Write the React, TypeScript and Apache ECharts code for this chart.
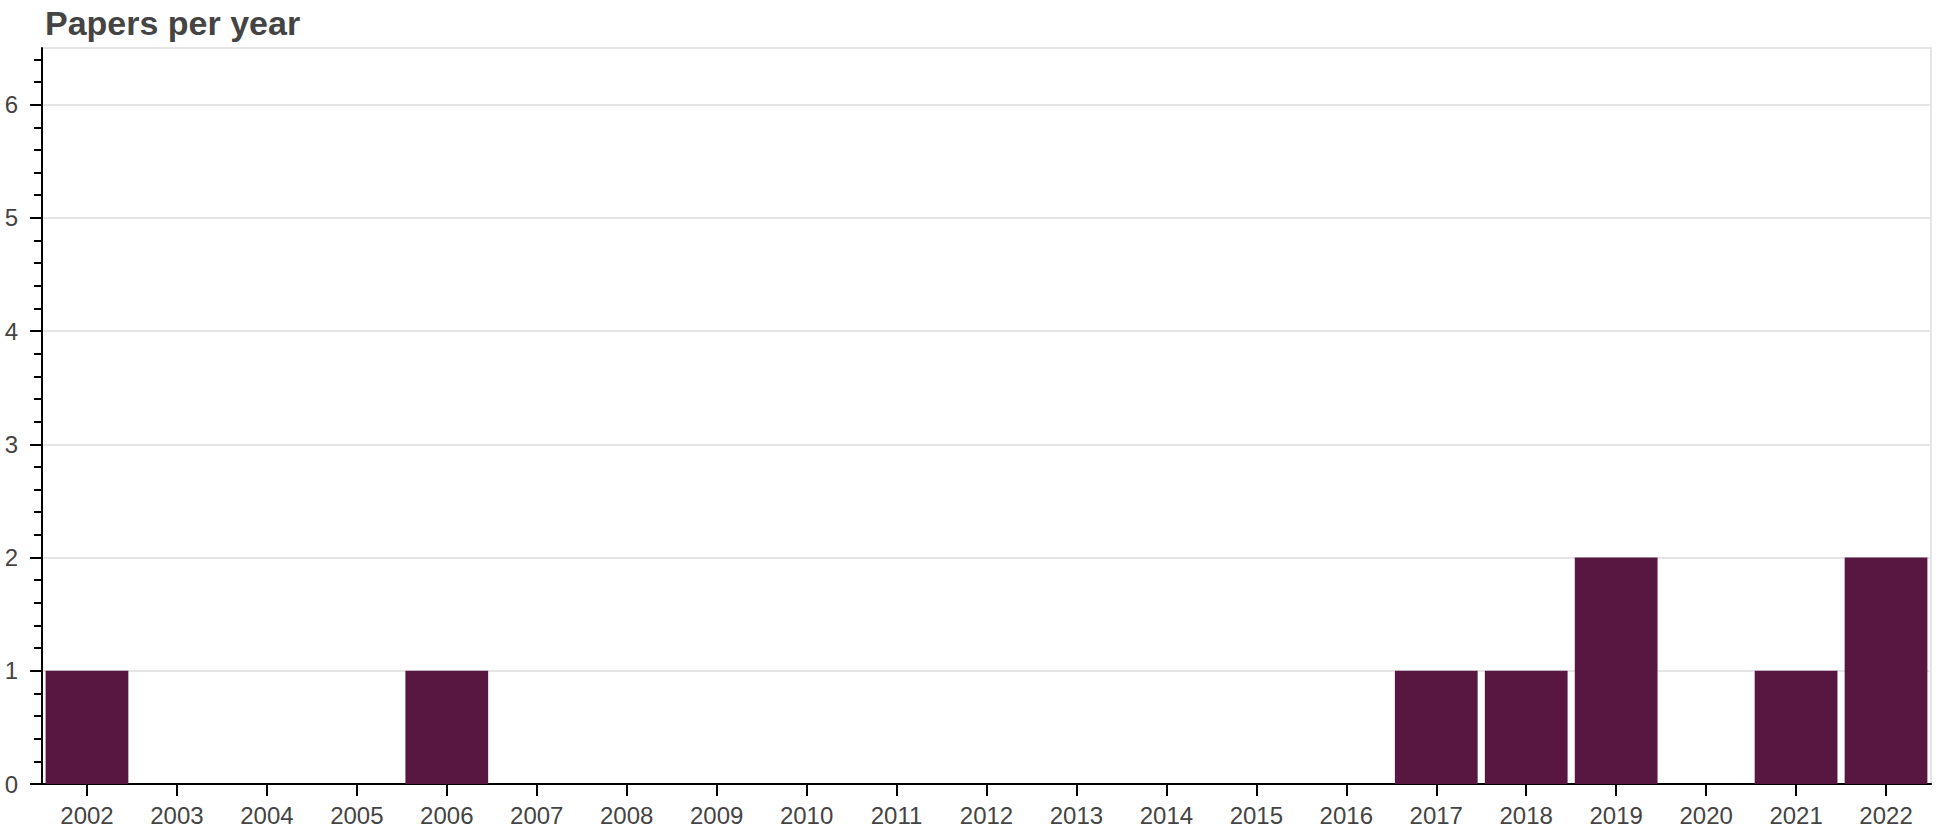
import React, { useEffect, useRef } from "react";
import * as echarts from "echarts";

const years: string[] = [
  "2002", "2003", "2004", "2005", "2006", "2007", "2008", "2009", "2010", "2011",
  "2012", "2013", "2014", "2015", "2016", "2017", "2018", "2019", "2020", "2021", "2022",
];
const papers: number[] = [1, 0, 0, 0, 1, 0, 0, 0, 0, 0, 0, 0, 0, 0, 0, 1, 1, 2, 0, 1, 2];
const yMajorTicks: number[] = [0, 1, 2, 3, 4, 5, 6];
const yMax = 6.5;
const minorPerMajor = 5;

const TEXT = "#444444";
const FONT = "'Liberation Sans', Arial, Helvetica, sans-serif";

export default function App() {
  const ref = useRef<HTMLDivElement>(null);
  useEffect(() => {
    if (!ref.current) return;
    const chart = echarts.init(ref.current, null, { renderer: "svg" });
    const minorTicks: number[] = [];
    for (let i = 0; i < yMajorTicks.length; i++) {
      for (let k = 1; k < minorPerMajor; k++) {
        const v = Math.round((yMajorTicks[i] + k / minorPerMajor) * 100) / 100;
        if (v < yMax) minorTicks.push(v);
      }
    }
    chart.setOption({
      animation: false,
      backgroundColor: "#ffffff",
      title: {
        text: "Papers per year",
        left: 40,
        top: 1,
        textStyle: { color: TEXT, fontSize: 34, fontWeight: "bold", fontFamily: FONT },
      },
      grid: {
        left: 42,
        right: 7,
        top: 48,
        bottom: 50,
        show: true,
        borderColor: "#e5e5e5",
        borderWidth: 2,
        containLabel: false,
      },
      xAxis: {
        type: "category",
        data: years,
        axisLine: { show: true, lineStyle: { color: "#000000", width: 2 } },
        axisTick: { show: true, alignWithLabel: true, length: 12, lineStyle: { color: "#000000", width: 2 } },
        axisLabel: { color: TEXT, fontSize: 24, fontFamily: FONT, margin: 19, interval: 0 },
        splitLine: { show: false },
      },
      yAxis: [
        {
          type: "value",
          min: 0,
          max: yMax,
          interval: 1,
          axisLine: { show: true, lineStyle: { color: "#000000", width: 2 } },
          axisTick: {
            show: true,
            length: 12,
            customValues: yMajorTicks,
            lineStyle: { color: "#000000", width: 2 },
          },
          axisLabel: {
            color: TEXT,
            fontSize: 24,
            fontFamily: FONT,
            margin: 24,
            customValues: yMajorTicks,
          },
          splitLine: { show: true, lineStyle: { color: "#e5e5e5", width: 2 } },
        },
        {
          type: "value",
          min: 0,
          max: yMax,
          position: "left",
          axisLine: { show: false },
          axisTick: {
            show: true,
            length: 8,
            customValues: minorTicks,
            lineStyle: { color: "#000000", width: 2 },
          },
          axisLabel: { show: false },
          splitLine: { show: false },
        },
      ],
      series: [
        {
          type: "bar",
          data: papers,
          yAxisIndex: 0,
          barCategoryGap: "8%",
          itemStyle: { color: "#571740" },
        },
      ],
    });
    return () => chart.dispose();
  }, []);
  return (
    <div
      ref={ref}
      style={{ position: "fixed", left: 0, top: 0, width: 1938, height: 834, background: "#fff" }}
    />
  );
}
